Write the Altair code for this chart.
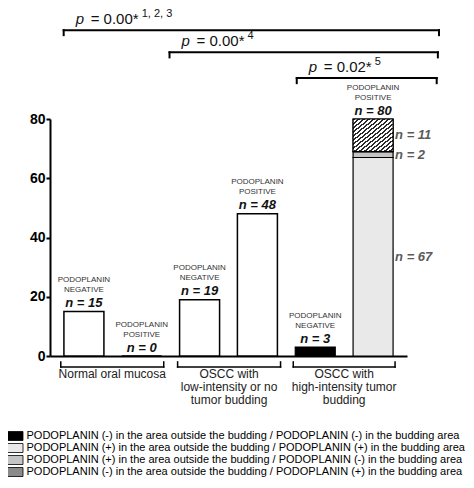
import altair as alt
import pandas as pd

FONT = "Liberation Sans, Arial, Helvetica, sans-serif"

# ---------------- data ----------------
bar_status = ["PODOPLANIN\nNEGATIVE", "PODOPLANIN\nPOSITIVE",
              "PODOPLANIN\nNEGATIVE", "PODOPLANIN\nPOSITIVE",
              "PODOPLANIN\nNEGATIVE", "PODOPLANIN\nPOSITIVE"]
bar_n = [15, 0, 19, 48, 3, 80]
bar_plain = [True, True, True, True, False, False]   # white bars (not split by legend)

legend_labels = [
    "PODOPLANIN (-) in the area outside the budding / PODOPLANIN (-) in the budding area",
    "PODOPLANIN (+) in the area outside the budding / PODOPLANIN (+) in the budding area",
    "PODOPLANIN (+) in the area outside the budding / PODOPLANIN (-) in the budding area",
    "PODOPLANIN (-) in the area outside the budding / PODOPLANIN  (+) in the budding area",
]
legend_fill = ["#000000", "#e9e9e9", "#c4c4c4", "#8a8a8a"]

# segments of the high-intensity bars (bar index, legend class, n)
seg_bar = [4, 5, 5, 5]
seg_kind = [0, 1, 2, 3]
seg_n = [3, 67, 2, 11]
seg_side = [False, True, True, True]

groups = ["Normal oral mucosa",
          "OSCC with\nlow-intensity or no\ntumor budding",
          "OSCC with\nhigh-intensity tumor\nbudding"]
group_start = [0.10, 2.12, 4.12]
group_end = [1.88, 3.90, 5.88]
group_level = -3.7

p_main = ["= 0.00*", "= 0.00*", "= 0.02*"]
p_sup = ["1, 2, 3", "4", "5"]
p_start = [0.15, 1.98, 4.18]
p_end = [6.64, 6.62, 6.60]
p_level = [110.0, 102.5, 93.8]

# ---------------- tables ----------------
bars = pd.DataFrame({
    "pos": [i + 0.5 for i in range(len(bar_n))],
    "n": bar_n,
    "status": bar_status,
    "nlabel": [f"n = {v}" for v in bar_n],
    "plain": bar_plain,
})
white = bars[bars["plain"]].assign(base=0)

rows = []
cum = {}
for b, k, v, s in zip(seg_bar, seg_kind, seg_n, seg_side):
    y0 = cum.get(b, 0)
    y1 = y0 + v
    cum[b] = y1
    rows.append({"pos": b + 0.5, "y0": y0, "y1": y1, "mid": (y0 + y1) / 2,
                 "kind": legend_labels[k], "hatch": k == 3, "side": s,
                 "nlabel": f"n = {v}"})
seg = pd.DataFrame(rows)

TICK_TOP = 1.7
top_rows = []
for s, e, lv in zip(p_start, p_end, p_level):
    top_rows.append({"x": s, "x2": e, "y": lv, "y2": lv})
    top_rows.append({"x": s, "x2": s, "y": lv, "y2": lv - TICK_TOP})
    top_rows.append({"x": e, "x2": e, "y": lv, "y2": lv - TICK_TOP})
top_rules = pd.DataFrame(top_rows)
ptext = pd.DataFrame({"x": p_start, "y": p_level, "main": p_main, "sup": p_sup})

bot_rows = []
for s, e in zip(group_start, group_end):
    bot_rows.append({"x": s, "x2": e, "y": group_level, "y2": group_level})
    bot_rows.append({"x": s, "x2": s, "y": group_level, "y2": group_level + 1.7})
    bot_rows.append({"x": e, "x2": e, "y": group_level, "y2": group_level + 1.7})
bot_rules = pd.DataFrame(bot_rows)
glabels = pd.DataFrame({"x": [(s + e) / 2 for s, e in zip(group_start, group_end)],
                        "y": [group_level] * len(groups), "label": groups})


def stripes(n, dark="#2a2a2a", light="#ffffff", frac=0.45):
    stops = []
    for i in range(n):
        a, b, c = i / n, (i + frac) / n, (i + 1) / n
        stops += [{"offset": a, "color": dark}, {"offset": b, "color": dark},
                  {"offset": b, "color": light}, {"offset": c, "color": light}]
    return {"gradient": "linear", "x1": 0, "y1": 0, "x2": 1, "y2": 1, "stops": stops}


# ---------------- scales / axes ----------------
xscale = alt.Scale(domain=[0, 6], nice=False, zero=False)
yscale = alt.Scale(domain=[0, 80], nice=False)
xaxis = alt.Axis(labels=False, ticks=False, grid=False, title=None,
                 domainColor="black", domainWidth=2)
yaxis = alt.Axis(values=[0, 20, 40, 60, 80], grid=False, title=None,
                 labelFont=FONT, labelFontSize=14, labelFontWeight="bold",
                 labelColor="black", tickColor="black", tickWidth=2, tickSize=4,
                 labelPadding=1, domainColor="black", domainWidth=2)


def X(f):
    return alt.X(f, type="quantitative", scale=xscale, axis=xaxis)


def Y(f):
    return alt.Y(f, type="quantitative", scale=yscale, axis=yaxis)


def build(use_encode, row_pad):
    leg_kw = dict(orient="none", legendX=-41.5, legendY=311.5, title=None,
                  symbolType="M-2,-1H2V1H-2Z", symbolSize=81,
                  symbolStrokeColor="black", symbolStrokeWidth=0.8,
                  labelFont=FONT, labelFontSize=11, labelColor="black",
                  labelLimit=800, labelOffset=7, rowPadding=row_pad, padding=0,
                  symbolOpacity=1)
    if use_encode:
        leg_kw["encode"] = {"symbols": {"update": {"fill": [
            {"test": "datum.index === 3", "value": stripes(4, frac=0.4)},
            {"scale": "fill", "field": "value"}]}}}
    legend = alt.Legend(**leg_kw)

    white_bars = alt.Chart(white).mark_bar(
        size=40, orient="vertical", fill="white", stroke="black", strokeWidth=1.5
    ).encode(x=X("pos"), y=Y("n"), y2=alt.Y2("base"))

    seg_bars = alt.Chart(seg).mark_bar(
        size=40, orient="vertical", stroke="black", strokeWidth=1.2
    ).encode(
        x=X("pos"), y=Y("y1"), y2=alt.Y2("y0"),
        fill=alt.Fill("kind:N", scale=alt.Scale(domain=legend_labels, range=legend_fill),
                      legend=legend),
    )

    hatch = alt.Chart(seg[seg["hatch"]]).mark_bar(
        size=40, orient="vertical", fill=stripes(16), stroke="black", strokeWidth=1.2
    ).encode(x=X("pos"), y=Y("y1"), y2=alt.Y2("y0"))

    status = alt.Chart(bars).mark_text(
        font=FONT, fontSize=8, color="#333333", lineBreak="\n", lineHeight=10,
        baseline="top", dy=-35.5
    ).encode(x=X("pos"), y=Y("n"), text="status:N")

    nlab = alt.Chart(bars).mark_text(
        font=FONT, fontSize=13, fontWeight="bold", fontStyle="italic",
        color="#111111", baseline="middle", dy=-8.5
    ).encode(x=X("pos"), y=Y("n"), text="nlabel:N")

    side = alt.Chart(seg[seg["side"]]).mark_text(
        font=FONT, fontSize=13, fontWeight="bold", fontStyle="italic",
        color="#5a5a5a", align="left", baseline="middle", dx=22
    ).encode(x=X("pos"), y=Y("mid"), text="nlabel:N")

    brules = alt.Chart(bot_rules).mark_rule(color="black", strokeWidth=1.5, strokeCap="square").encode(
        x=X("x"), x2=alt.X2("x2"), y=Y("y"), y2=alt.Y2("y2"))
    gtext = alt.Chart(glabels).mark_text(
        font=FONT, fontSize=12, color="#222222", lineBreak="\n", lineHeight=13,
        baseline="top", align="center", dy=2
    ).encode(x=X("x"), y=Y("y"), text="label:N")

    trules = alt.Chart(top_rules).mark_rule(color="black", strokeWidth=2, strokeCap="square").encode(
        x=X("x"), x2=alt.X2("x2"), y=Y("y"), y2=alt.Y2("y2"))
    p_it = alt.Chart(ptext).mark_text(
        font=FONT, fontSize=15, fontStyle="italic", color="#111111",
        align="left", baseline="middle", dx=12, dy=-11
    ).encode(x=X("x"), y=Y("y"), text=alt.value("p"))
    p_mn = alt.Chart(ptext).mark_text(
        font=FONT, fontSize=15, color="#111111",
        align="left", baseline="middle", dx=27, dy=-11
    ).encode(x=X("x"), y=Y("y"), text="main:N")
    p_sp = alt.Chart(ptext).mark_text(
        font=FONT, fontSize=11, color="#111111",
        align="left", baseline="middle", dx=78, dy=-16
    ).encode(x=X("x"), y=Y("y"), text="sup:N")

    ch = alt.layer(white_bars, seg_bars, hatch, status, nlab, side,
                   brules, gtext, trules, p_it, p_mn, p_sp).properties(
        width=357, height=237, padding=0
    ).configure_view(stroke=None)
    return ch


chart = None
for enc, rp in [(True, -1.5), (False, -1.5), (True, 0), (False, 0)]:
    try:
        c = build(enc, rp)
        c.to_dict()
        chart = c
        break
    except Exception:
        continue

chart.save("out.html", embed_options={"renderer": "svg", "actions": False})
